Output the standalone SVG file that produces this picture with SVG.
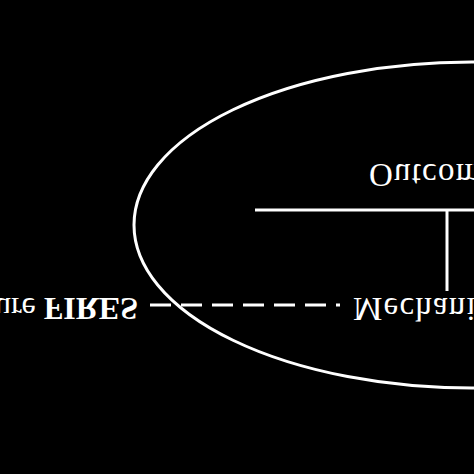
<svg xmlns="http://www.w3.org/2000/svg" width="474" height="474" viewBox="0 0 474 474">
<style>
.ln{stroke:#fff;stroke-width:3;fill:none}
.t{fill:#fff;font-family:"Liberation Serif","Times New Roman",serif;font-size:32px}
.w{font-size:33px;letter-spacing:1.2px}
</style>
<rect width="474" height="474" fill="#000"/>
<g id="ellipse"><ellipse class="ln" cx="472" cy="225" rx="338" ry="163"/></g>
<g id="connectors">
<line class="ln" x1="255" y1="210" x2="474" y2="210"/>
<line class="ln" x1="447" y1="210" x2="447" y2="291"/>
<line class="ln" x1="150" y1="305" x2="340" y2="305" stroke-dasharray="21 10"/>
</g>
<g id="fires"><text class="t" transform="translate(138,298) scale(1,-1)" text-anchor="end">ure <tspan font-weight="bold">FIRES</tspan></text></g>
<g id="mechanism"><text class="t w" transform="translate(353,298) scale(1,-1)">Mechani</text></g>
<g id="outcome"><text class="t w" transform="translate(369,164) scale(1,-1)">Outcom</text></g>
</svg>
